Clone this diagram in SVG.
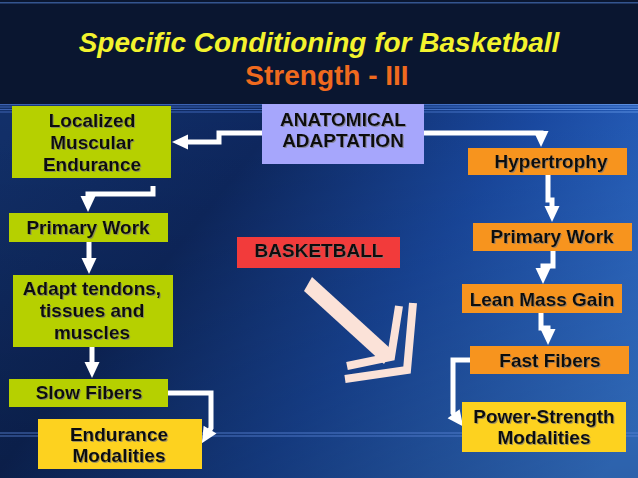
<svg xmlns="http://www.w3.org/2000/svg" width="638" height="478" viewBox="0 0 638 478">
<defs>
<linearGradient id="bg" x1="0" y1="0.3" x2="1" y2="0.9">
<stop offset="0" stop-color="#12306a"/>
<stop offset="0.3" stop-color="#0e2860"/>
<stop offset="0.6" stop-color="#1a4aa2"/>
<stop offset="1" stop-color="#3b82e4"/>
</linearGradient>
<linearGradient id="shade" x1="0" y1="0" x2="0" y2="1">
<stop offset="0" stop-color="#000" stop-opacity="0"/>
<stop offset="1" stop-color="#000" stop-opacity="0.25"/>
</linearGradient>
<linearGradient id="band" x1="0" y1="0" x2="1" y2="0">
<stop offset="0" stop-color="#3d62b0"/>
<stop offset="0.6" stop-color="#3a64b8"/>
<stop offset="1" stop-color="#5a8ee0"/>
</linearGradient>
<marker id="ah" markerUnits="userSpaceOnUse" markerWidth="18" markerHeight="16" refX="4" refY="7.5" orient="auto" overflow="visible">
<path d="M0,0 L16,7.5 L0,15 z" fill="#fff"/>
</marker>
<filter id="ts" x="-10%" y="-10%" width="130%" height="140%">
<feDropShadow dx="1" dy="1" stdDeviation="0.4" flood-color="#777" flood-opacity="0.7"/>
</filter>
</defs>
<style>
.t{font-family:"Liberation Sans",Arial,sans-serif;font-weight:bold;font-size:19px;fill:#111;text-anchor:middle}
.lime{fill:#b6d000}
.orange{fill:#f7941e}
.yellow{fill:#fdd21f}
.conn{fill:none;stroke:#fff;stroke-width:5;stroke-linejoin:miter;marker-end:url(#ah)}
</style>
<rect x="0" y="0" width="638" height="478" fill="url(#bg)"/>
<rect x="0" y="104" width="638" height="374" fill="url(#shade)"/>
<rect x="0" y="0" width="638" height="104" fill="#0a1630"/>
<rect x="0" y="2" width="638" height="1.5" fill="#34558f"/>
<g fill="url(#band)">
<rect x="0" y="104" width="638" height="1.2"/>
<rect x="0" y="106.5" width="638" height="1"/>
<rect x="0" y="109" width="638" height="1"/>
<rect x="0" y="111.5" width="638" height="1"/>
</g>
<rect x="0" y="432.5" width="638" height="1" fill="#5a86d6" opacity="0.8"/>
<rect x="0" y="435.5" width="638" height="1" fill="#5a86d6" opacity="0.8"/>

<text x="319" y="52" font-family="Liberation Sans,Arial,sans-serif" font-weight="bold" font-style="italic" font-size="28" fill="#f3f32e" text-anchor="middle">Specific Conditioning for Basketball</text>
<text x="327" y="85" font-family="Liberation Sans,Arial,sans-serif" font-weight="bold" font-size="28" fill="#f06a1e" text-anchor="middle">Strength - III</text>

<g id="bigarrow" fill="#fbe2d8">
<polygon points="304,291 312,277 392,350 384,364"/>
<polyline points="399,306 391,357 347,366" fill="none" stroke="#fbe2d8" stroke-width="8" stroke-linejoin="miter"/>
<polyline points="413,303 407,370 345,379" fill="none" stroke="#fbe2d8" stroke-width="8" stroke-linejoin="miter"/>
</g>

<g id="connectors">
<path class="conn" d="M262,133 H219 V142 H184"/>
<path class="conn" d="M424,133 H541 V135"/>
<path class="conn" d="M153,186 V194 H88 V200"/>
<path class="conn" d="M89,242 V262"/>
<path class="conn" d="M92,347 V366"/>
<path class="conn" d="M168,393 H211 V428 L208,433"/>
<path class="conn" d="M548,175 V200 H552 V210"/>
<path class="conn" d="M553,251 V266 H543 V272"/>
<path class="conn" d="M541,313 V328 H548 V333"/>
<path class="conn" d="M470,360 H453 V413 L456,417"/>
</g>

<g id="n-lme">
<rect class="lime" x="12" y="106" width="159" height="72"/>
<text class="t" filter="url(#ts)"><tspan x="92" y="127">Localized</tspan><tspan x="92" y="149">Muscular</tspan><tspan x="92" y="171">Endurance</tspan></text>
</g>
<g id="n-anat">
<rect fill="#a6a6fc" x="262" y="104" width="162" height="60"/>
<text class="t" filter="url(#ts)"><tspan x="343" y="126">ANATOMICAL</tspan><tspan x="343" y="147">ADAPTATION</tspan></text>
</g>
<g id="n-hyp">
<rect class="orange" x="468" y="148" width="159" height="27"/>
<text class="t" x="551" y="168" filter="url(#ts)">Hypertrophy</text>
</g>
<g id="n-pwl">
<rect class="lime" x="9" y="213" width="159" height="29"/>
<text class="t" x="88" y="234" filter="url(#ts)">Primary Work</text>
</g>
<g id="n-pwr">
<rect class="orange" x="473" y="223" width="159" height="28"/>
<text class="t" x="552" y="243" filter="url(#ts)">Primary Work</text>
</g>
<g id="n-bb">
<rect fill="#f23b3b" x="237" y="237" width="163" height="31"/>
<text class="t" x="319" y="257" filter="url(#ts)">BASKETBALL</text>
</g>
<g id="n-adapt">
<rect class="lime" x="13" y="275" width="160" height="72"/>
<text class="t" filter="url(#ts)"><tspan x="92" y="295">Adapt tendons,</tspan><tspan x="92" y="317">tissues and</tspan><tspan x="92" y="339">muscles</tspan></text>
</g>
<g id="n-lmg">
<rect class="orange" x="462" y="284" width="160" height="29"/>
<text class="t" x="542" y="306" filter="url(#ts)">Lean Mass Gain</text>
</g>
<g id="n-ff">
<rect class="orange" x="470" y="346" width="159" height="28"/>
<text class="t" x="550" y="367" filter="url(#ts)">Fast Fibers</text>
</g>
<g id="n-sf">
<rect class="lime" x="9" y="379" width="159" height="28"/>
<text class="t" x="89" y="399" filter="url(#ts)">Slow Fibers</text>
</g>
<g id="n-em">
<rect class="yellow" x="38" y="419" width="164" height="50"/>
<text class="t" filter="url(#ts)"><tspan x="119" y="441">Endurance</tspan><tspan x="119" y="462">Modalities</tspan></text>
</g>
<g id="n-psm">
<rect class="yellow" x="462" y="402" width="164" height="50"/>
<text class="t" filter="url(#ts)"><tspan x="544" y="423">Power-Strength</tspan><tspan x="544" y="444">Modalities</tspan></text>
</g>
</svg>
